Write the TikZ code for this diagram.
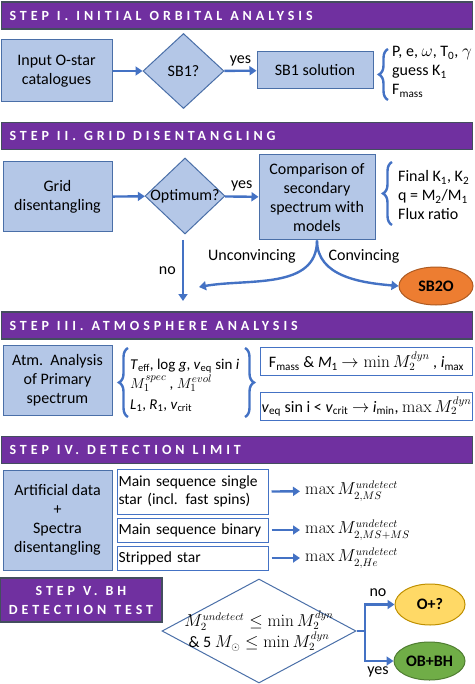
\documentclass[tikz,border=0pt]{standalone}
\usepackage[no-math]{fontspec}
\setmainfont{Carlito}
\usetikzlibrary{arrows.meta}
\usetikzlibrary{shapes.geometric}
\usetikzlibrary{decorations.pathreplacing}

\definecolor{stepviolet}{HTML}{7030A0}
\definecolor{stepedge}{HTML}{434E5E}
\definecolor{boxfill}{HTML}{B4C7E7}
\definecolor{boxedge}{HTML}{4A6FA8}
\definecolor{flowblue}{HTML}{4472C4}
\definecolor{sbfill}{HTML}{ED7D31}
\definecolor{sbedge}{HTML}{AE5A21}
\definecolor{oqfill}{HTML}{FFD966}
\definecolor{oqedge}{HTML}{BF9000}
\definecolor{bhfill}{HTML}{70AD47}
\definecolor{bhedge}{HTML}{507E32}

\newcommand{\bodyfont}{\fontsize{16}{19}\selectfont}
\newcommand{\stepfont}{\fontsize{14}{19}\selectfont\bfseries\addfontfeature{LetterSpace=28}}
\newcommand{\wsp}{\hspace{8pt}}

\tikzset{
  stepbar/.style={draw=stepedge, line width=1.8pt, fill=stepviolet, text=white,
    font=\stepfont, minimum height=27pt, text width=455pt, inner xsep=8pt, align=left},
  bluebox/.style={draw=boxedge, line width=1pt, fill=boxfill, align=center,
    font=\bodyfont, inner sep=2pt},
  whitebox/.style={draw=flowblue, line width=1pt, fill=white, font=\bodyfont, inner sep=3pt},
  optbox/.style={whitebox, font=\fontsize{15.5}{18.5}\selectfont, text width=148pt, inner xsep=1.5pt, align=left},
  decision/.style={diamond, draw=boxedge, line width=1pt, fill=boxfill, inner sep=0pt},
  endstate/.style={ellipse, line width=1pt, font=\bodyfont\bfseries, inner sep=0pt},
  flow/.style={-{Triangle[length=7pt,width=9pt]}, line width=2.4pt, draw=flowblue},
  curly/.style={decorate, decoration={brace, amplitude=9pt}, line width=2.4pt, draw=flowblue},
  txt/.style={font=\bodyfont, inner sep=0pt}
}

\begin{document}
\begin{tikzpicture}[x=1pt, y=-1pt]
  \useasboundingbox (0,0) rectangle (474,684);

  % step I
  \node[stepbar] (bar1) at (237,15.5) {STEP\wsp I.\wsp INITIAL\wsp ORBITAL\wsp ANALYSIS};
  \node[bluebox, minimum width=111pt, minimum height=62pt] (input) at (56.5,71) {Input O-star\\catalogues};
  \node[decision, minimum width=81pt, minimum height=75pt] (sb1) at (183.5,71) {\bodyfont SB1?};
  \node[bluebox, minimum width=116pt, minimum height=37pt] (sol) at (315,70.5) {SB1 solution};
  \draw[flow] (input) -- (sb1);
  \draw[flow] (sb1) -- node[txt, above=4pt] (yes1) {yes} (sol);
  \draw[curly] (388,100) -- (388,49);
  \node[txt, anchor=west, align=left] (orbit) at (392,72)
    {P, e, $\omega$, T\textsubscript{0}, $\gamma$\\guess K\textsubscript{1}\\F\textsubscript{mass}};

  % step II
  \node[stepbar] (bar2) at (237,136) {STEP\wsp II.\wsp GRID\wsp DISENTANGLING};
  \node[bluebox, minimum width=109pt, minimum height=70pt] (grid) at (57.5,197) {Grid\\disentangling};
  \node[decision, minimum width=80pt, minimum height=76pt, label={[txt]center:Optimum?}] (opt) at (185,196) {};
  \node[bluebox, minimum width=116pt, minimum height=85pt] (comp) at (317,197.5)
    {Comparison of\\secondary\\spectrum with\\models};
  \draw[flow] (grid) -- (opt);
  \draw[flow] (opt) -- node[txt, above=4pt] (yes2) {yes} (comp);
  \draw[curly] (392,225) -- (392,162);
  \node[txt, anchor=west, align=left] (fin) at (398,195)
    {Final K\textsubscript{1}, K\textsubscript{2}\\q = M\textsubscript{2}/M\textsubscript{1}\\Flux ratio};
  \node[endstate, draw=sbedge, fill=sbfill, minimum width=74pt, minimum height=38pt] (sb2o) at (436,286) {SB2O};
  \coordinate (noend) at (183,301);
  \coordinate (uncend) at (199,287);
  \draw[flow] (183,240) -- node[txt, left=6pt] (no2) {no} (noend);
  \draw[flow] (comp.south) to[out=-90, in=10] (uncend);
  \draw[flow] (comp.south) to[out=-90, in=175] (sb2o.west);
  \node[txt] (unc) at (252,256) {Unconvincing};
  \node[txt] (conv) at (364,256) {Convincing};

  % step III
  \node[stepbar] (bar3) at (237,325.5) {STEP\wsp III.\wsp ATMOSPHERE\wsp ANALYSIS};
  \node[bluebox, minimum width=109pt, minimum height=70pt] (atm) at (57.5,380) {Atm.\ \ Analysis\\of Primary\\spectrum};
  \draw[curly] (128,417) -- (128,348);
  \draw[curly] (245,348) -- (245,417);
  \node[txt, anchor=west, align=left, font=\fontsize{15}{18}\selectfont] (par) at (130,385)
    {\textit{T}\textsubscript{eff}, log \textit{g}, \textit{v}\textsubscript{eq} sin \textit{i}\\[1pt]
     $M_1^{spec}$ , $M_1^{evol}$\\[3pt]
     \textit{L}\textsubscript{1}, \textit{R}\textsubscript{1}, \textit{v}\textsubscript{crit}};
  \node[whitebox, minimum width=212pt, minimum height=28pt, anchor=north west] (dyn1) at (260,347)
    {F\textsubscript{mass} \& \textit{M}\textsubscript{1} $\rightarrow \min M_2^{dyn}$ , \textit{i}\textsubscript{max}};
  \node[whitebox, minimum width=212pt, minimum height=28pt, anchor=north west, inner xsep=1pt] (dyn2) at (260,392)
    {\textit{v}\textsubscript{eq} sin i {\textless} \textit{v}\textsubscript{crit} $\rightarrow$ \textit{i}\textsubscript{min}, $\max M_2^{dyn}$};

  % step IV
  \node[stepbar] (bar4) at (237,450) {STEP\wsp IV.\wsp DETECTION\wsp LIMIT};
  \node[bluebox, minimum width=109pt, minimum height=100pt] (art) at (57.5,520)
    {Artificial data\\+\\Spectra\\disentangling};
  \node[optbox, minimum height=45pt] (single) at (192.5,491.5)
    {Main sequence single\\star (incl. fast spins)};
  \node[optbox, minimum height=24pt] (binary) at (192.5,530) {Main sequence binary};
  \node[optbox, minimum height=24pt] (strip) at (192.5,558) {Stripped star};
  \node[txt, anchor=west] (lim1) at (305,491) {$\max M_{2,MS}^{undetect}$};
  \node[txt, anchor=west] (lim2) at (305,530) {$\max M_{2,MS+MS}^{undetect}$};
  \node[txt, anchor=west] (lim3) at (305,558) {$\max M_{2,He}^{undetect}$};
  \draw[flow, shorten >=5pt] (single.east) ++(3,0) -- (lim1);
  \draw[flow, shorten >=5pt] (binary.east) ++(3,0) -- (lim2);
  \draw[flow, shorten >=5pt] (strip.east) ++(3,0) -- (lim3);

  % step V
  \node[stepbar, text width=146pt, minimum height=44pt, align=center] (bar5) at (81,600)
    {STEP\wsp V.\wsp BH\\DETECTION\wsp TEST};
  \node[diamond, draw=boxedge, line width=1pt, fill=white, minimum width=194pt, minimum height=104pt,
    label={[txt, align=center]center:{$M_2^{undetect} \le \min M_2^{dyn}$\\\& 5 $M_\odot \le \min M_2^{dyn}$}}] (test) at (259,631) {};
  \node[endstate, draw=oqedge, fill=oqfill, minimum width=70pt, minimum height=41pt] (oq) at (430,604.5) {O+?};
  \node[endstate, draw=bhedge, fill=bhfill, minimum width=71pt, minimum height=38pt] (obbh) at (429.5,661) {OB+BH};
  \coordinate (fork) at (365,631);
  \draw[line width=2.4pt, draw=flowblue] (test.east) -- (fork);
  \draw[flow] (fork) |- (oq.west);
  \draw[flow] (fork) |- (obbh.west);
  \node[txt] (no5) at (378,593) {no};
  \node[txt] (yes5) at (378,672) {yes};
\end{tikzpicture}
\end{document}
